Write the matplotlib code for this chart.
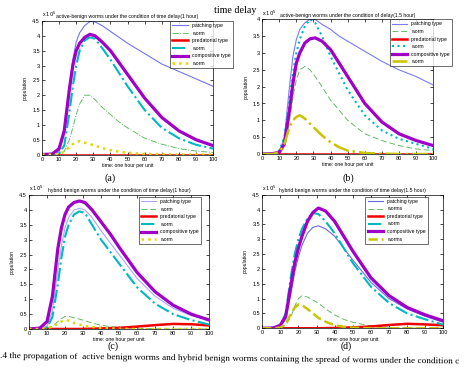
import numpy as np
import matplotlib
matplotlib.use('Agg')
import matplotlib.pyplot as plt
from matplotlib.ticker import FuncFormatter

# time axis (hours), values in units of 1e5
t = [0, 6, 10, 13, 16, 18, 20, 22, 25, 28, 31, 35, 40, 45, 50, 60, 70, 80, 90, 100]

# (a) active-benign worms, delay 1 hour
a_patch = [0, 0, 0.1, 0.7, 2.3, 3.2, 3.8, 4.1, 4.35, 4.48, 4.47, 4.35, 4.15, 3.95, 3.75, 3.4, 3.05, 2.8, 2.55, 2.3]
a_worm1 = [0, 0, 0.02, 0.1, 0.5, 0.9, 1.35, 1.7, 2.0, 2.0, 1.85, 1.6, 1.35, 1.1, 0.9, 0.55, 0.35, 0.2, 0.12, 0.07]
a_pred = [0] * 20
a_worm2 = [0, 0, 0.05, 0.3, 1.4, 2.3, 3.0, 3.5, 3.85, 3.95, 3.9, 3.6, 3.2, 2.75, 2.3, 1.5, 0.9, 0.55, 0.33, 0.2]
a_comp = [0, 0.02, 0.2, 0.8, 2.2, 3.0, 3.5, 3.75, 3.95, 4.05, 4.0, 3.8, 3.5, 3.1, 2.7, 1.9, 1.25, 0.8, 0.5, 0.3]
a_worm3 = [0, 0, 0.02, 0.1, 0.25, 0.35, 0.43, 0.45, 0.4, 0.35, 0.3, 0.22, 0.15, 0.1, 0.06, 0.02, 0.01, 0, 0, 0]

# (b) active-benign worms, delay 1.5 hour
b_patch = [0, 0, 0.05, 0.5, 2.0, 2.9, 3.4, 3.7, 3.9, 4.0, 4.0, 3.85, 3.7, 3.5, 3.35, 3.05, 2.75, 2.5, 2.3, 2.05]
b_worm1 = [0, 0, 0.02, 0.2, 1.0, 1.7, 2.2, 2.5, 2.6, 2.5, 2.3, 2.0, 1.6, 1.3, 1.0, 0.6, 0.4, 0.25, 0.15, 0.1]
b_pred = [0] * 20
b_worm2 = [0, 0, 0.1, 0.5, 1.6, 2.4, 3.0, 3.4, 3.8, 4.0, 3.9, 3.5, 2.9, 2.4, 1.9, 1.15, 0.7, 0.45, 0.3, 0.15]
b_comp = [0, 0.01, 0.05, 0.3, 1.3, 2.1, 2.7, 3.0, 3.3, 3.42, 3.45, 3.35, 3.1, 2.7, 2.3, 1.5, 0.95, 0.6, 0.4, 0.25]
b_worm3 = [0, 0, 0.05, 0.3, 0.8, 1.0, 1.1, 1.15, 1.05, 0.9, 0.75, 0.55, 0.35, 0.2, 0.1, 0.03, 0.01, 0, 0, 0]

# (c) hybrid benign worms, delay 1 hour
c_patch = [0, 0.01, 0.1, 0.6, 2.0, 2.8, 3.4, 3.75, 4.0, 4.05, 4.0, 3.75, 3.3, 2.9, 2.5, 1.7, 1.1, 0.7, 0.45, 0.3]
c_worm1 = [0, 0, 0.02, 0.1, 0.25, 0.35, 0.42, 0.42, 0.38, 0.33, 0.28, 0.2, 0.13, 0.08, 0.05, 0.02, 0.01, 0, 0, 0]
c_pred = [0, 0, 0, 0, 0, 0, 0, 0, 0, 0, 0.005, 0.01, 0.02, 0.03, 0.04, 0.08, 0.13, 0.17, 0.16, 0.12]
c_worm2 = [0, 0.01, 0.05, 0.4, 1.5, 2.4, 3.1, 3.5, 3.85, 3.95, 3.9, 3.5, 3.0, 2.6, 2.2, 1.4, 0.85, 0.5, 0.3, 0.15]
c_comp = [0, 0.03, 0.25, 1.1, 2.7, 3.4, 3.85, 4.1, 4.25, 4.3, 4.25, 4.0, 3.6, 3.2, 2.75, 1.9, 1.25, 0.8, 0.5, 0.3]
c_worm3 = [0, 0, 0.02, 0.08, 0.18, 0.25, 0.3, 0.28, 0.2, 0.15, 0.1, 0.07, 0.04, 0.02, 0.01, 0, 0, 0, 0, 0]

# (d) hybrid benign worms, delay 1.5 hour
d_patch = [0, 0.01, 0.05, 0.3, 1.2, 1.9, 2.4, 2.8, 3.2, 3.4, 3.45, 3.35, 3.1, 2.7, 2.3, 1.55, 1.0, 0.65, 0.4, 0.2]
d_worm1 = [0, 0, 0.02, 0.1, 0.4, 0.75, 1.0, 1.1, 1.05, 0.95, 0.85, 0.65, 0.45, 0.3, 0.2, 0.08, 0.03, 0.01, 0, 0]
d_pred = [0, 0, 0, 0, 0, 0, 0, 0, 0, 0, 0, 0.005, 0.01, 0.02, 0.03, 0.06, 0.11, 0.15, 0.13, 0.1]
d_worm2 = [0, 0.01, 0.1, 0.5, 1.8, 2.5, 3.0, 3.35, 3.7, 3.88, 3.85, 3.6, 3.2, 2.7, 2.2, 1.4, 0.85, 0.5, 0.3, 0.12]
d_comp = [0, 0.01, 0.1, 0.4, 1.5, 2.2, 2.7, 3.1, 3.6, 3.9, 4.05, 3.95, 3.6, 3.1, 2.6, 1.7, 1.1, 0.7, 0.45, 0.25]
d_worm3 = [0, 0, 0.02, 0.15, 0.5, 0.7, 0.8, 0.78, 0.65, 0.5, 0.35, 0.22, 0.1, 0.05, 0.02, 0, 0, 0, 0, 0]

titles = ['active-benign worms under the condition of time delay(1 hour)',
          'active-benign worms under the condition of delay(1.5 hour)',
          'hybrid benign worms under the condition of time delay(1 hour)',
          'hybrid benign worms under the condition of time delay(1.5 hour)']
labels_ac = ['patching type', 'worm', 'predatorial type', 'worm', 'compositive type', 'worm']
labels_d = ['patching type', 'worms', 'predatorial type', 'worm', 'compositive type', 'worms']

plt.rcParams['font.family'] = ['Liberation Sans', 'DejaVu Sans']

fig = plt.figure(figsize=(4.74, 3.68), dpi=100)

# axes boxes in figure fractions
boxes = [(0.0886, 0.580, 0.361, 0.363),
         (0.553, 0.5815, 0.361, 0.366),
         (0.0612, 0.106, 0.380, 0.364),
         (0.553, 0.108, 0.3825, 0.363)]
ylims = [4.5, 4.0, 4.5, 4.5]

panels = [
    (a_patch, a_worm1, a_pred, a_worm2, a_comp, a_worm3),
    (b_patch, b_worm1, b_pred, b_worm2, b_comp, b_worm3),
    (c_patch, c_worm1, c_pred, c_worm2, c_comp, c_worm3),
    (d_patch, d_worm1, d_pred, d_worm2, d_comp, d_worm3),
]

patch_colors = ['#7474f0', '#7c7cf0', '#a8a8ff', '#6a6ae0']
worm1_styles = ['-.', (0, (6, 3)), (0, (6, 3)), (0, (6, 3))]
worm2_styles = ['-.', ':', '-.', '-.']
worm3_styles = [':', '-.', ':', '--']
worm3_colors = ['#e0d800', '#c8c400', '#e0d800', '#c8c400']
legend_anchor = [(0.75, 1.0), (0.745, 1.0), (0.61, 0.985), (0.57, 0.985)]

small = 3.7

for i, (box, series) in enumerate(zip(boxes, panels)):
    ax = fig.add_axes(box)
    p, w1, pr, w2, cp, w3 = series
    lab = labels_d if i == 3 else labels_ac
    ax.plot(t, p, color=patch_colors[i], lw=0.8, label=lab[0])
    ax.plot(t, w1, color='#66bb66', lw=0.7, linestyle=worm1_styles[i], label=lab[1])
    ax.plot(t, pr, color='#ee0000', lw=1.8, label=lab[2])
    ax.plot(t, w2, color='#00b8c0', lw=1.5, linestyle=worm2_styles[i], label=lab[3])
    ax.plot(t, cp, color='#a000c8', lw=2.3, label=lab[4])
    ax.plot(t, w3, color=worm3_colors[i], lw=1.8, linestyle=worm3_styles[i], label=lab[5])

    ax.set_xlim(0, 100)
    ax.set_ylim(0, ylims[i])
    ax.set_xticks(np.arange(0, 101, 10))
    ax.set_yticks(np.arange(0, ylims[i] + 0.01, 0.5))
    ax.yaxis.set_major_formatter(FuncFormatter(lambda v, pos: '%g' % v))
    ax.tick_params(direction='in', length=2, width=0.5, labelsize=4.0, pad=1.5,
                   top=True, right=True)
    for s in ax.spines.values():
        s.set_linewidth(0.5)
    ax.set_xlabel('time: one hour per unit', fontsize=small, labelpad=1)
    ax.set_ylabel('population', fontsize=small, labelpad=3)
    ax.set_title(titles[i], fontsize=small, pad=2)
    ax.text(0.0, 1.012, r'x $10^5$', transform=ax.transAxes, fontsize=small,
            ha='left', va='bottom')
    leg = ax.legend(loc='upper left', bbox_to_anchor=legend_anchor[i], fontsize=small,
                    frameon=True, fancybox=False, edgecolor='black',
                    borderpad=0.4, labelspacing=0.5, handlelength=3.0,
                    handletextpad=0.8, borderaxespad=0)
    leg.get_frame().set_linewidth(0.5)

# page text around the figure
serif = 'Liberation Serif'
fig.text(0.497, 0.972, 'time delay', fontsize=7.2, family=serif, ha='center', va='center')
fig.text(0.233, 0.516, '(a)', fontsize=7.2, family=serif, ha='center', va='center')
fig.text(0.735, 0.516, '(b)', fontsize=7.2, family=serif, ha='center', va='center')
fig.text(0.238, 0.058, '(c)', fontsize=7.2, family=serif, ha='center', va='center')
fig.text(0.730, 0.060, '(d)', fontsize=7.0, family=serif, ha='center', va='center')
fig.text(0.0, 0.033, '.4 the propagation of  active benign worms and hybrid benign worms '
         'containing the spread of worms under the condition c',
         fontsize=6.7, family=serif, ha='left', va='center', rotation=-0.7,
         rotation_mode='anchor')

fig.savefig('out.png', dpi=100)
